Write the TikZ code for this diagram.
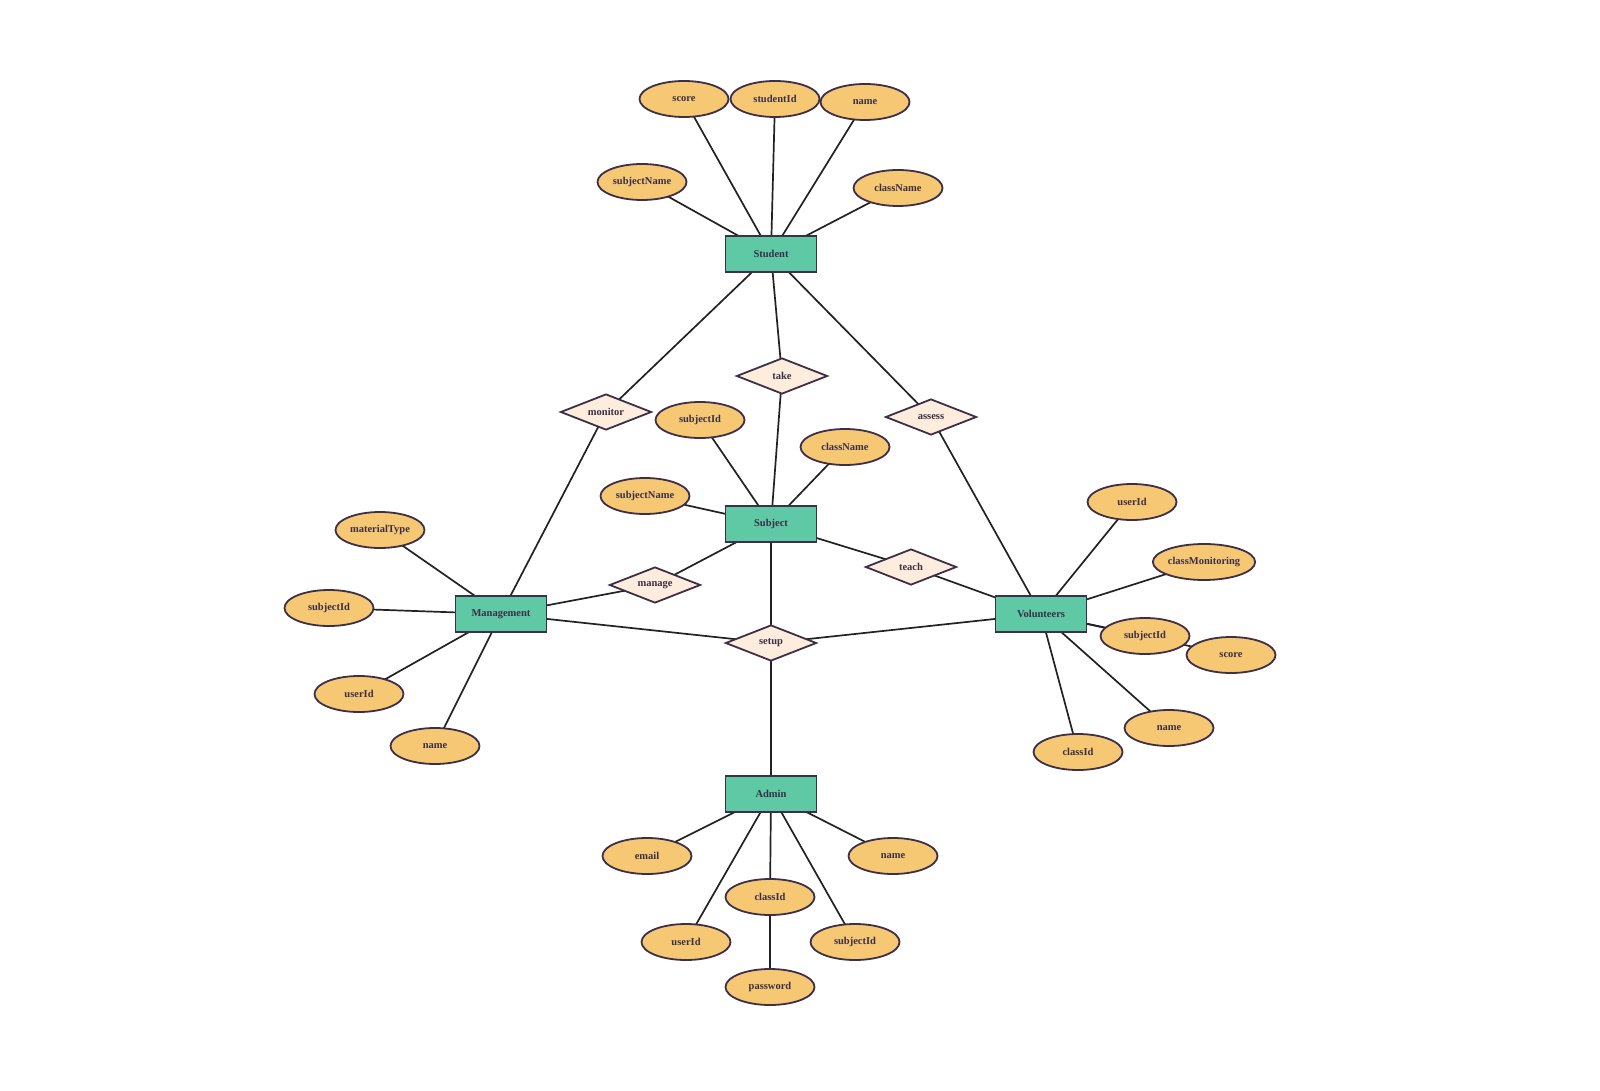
\documentclass[tikz,border=0pt]{standalone}
\usepackage{fontspec}
\setmainfont{Liberation Serif}
\usetikzlibrary{shapes.geometric,backgrounds}
\definecolor{attrfill}{HTML}{F6C874}
\definecolor{entfill}{HTML}{5FC9A6}
\definecolor{relfill}{HTML}{FEEDDC}
\definecolor{outline}{HTML}{3D2F48}
\definecolor{txt}{HTML}{3A2E45}
\definecolor{edgecol}{HTML}{222222}
\begin{document}
\begin{tikzpicture}[x=1pt,y=-1pt,
  base/.style={draw=outline,line width=1.8pt,text=txt,font=\fontsize{10.5}{12}\selectfont\bfseries,inner sep=0pt},
  entity/.style={base,rectangle,fill=entfill,minimum width=91pt,minimum height=36pt},
  attr/.style={base,ellipse,fill=attrfill,minimum width=89pt,minimum height=36pt},
  rel/.style={base,diamond,fill=relfill,minimum width=91pt,minimum height=36pt,aspect=2.5},
  link/.style={draw=edgecol,line width=1.7pt}]
\useasboundingbox (0,0) rectangle (1600,1091);
% entities
\node[entity] (student) at (771,254) {Student};
\node[entity] (subject) at (771,524) {Subject};
\node[entity] (mgmt) at (501,614) {Management};
\node[entity] (vol) at (1041,614) {Volunteers};
\node[entity] (admin) at (771,794) {Admin};
% relationships
\node[rel] (take) at (782,376) {take};
\node[rel] (monitor) at (606,412) {monitor};
\node[rel] (assess) at (931,417) {assess};
\node[rel] (manage) at (655,585) {manage};
\node[rel] (teach) at (911,567) {teach};
\node[rel] (setup) at (771,643) {setup};
% student attributes
\node[attr] (sScore) at (684,99) {score};
\node[attr] (sId) at (775,99) {studentId};
\node[attr] (sName) at (865,102) {name};
\node[attr] (sSubj) at (642,182) {subjectName};
\node[attr] (sClass) at (898,188) {className};
% subject attributes
\node[attr] (subId) at (700,420) {subjectId};
\node[attr] (subClass) at (845,447) {className};
\node[attr] (subName) at (645,496) {subjectName};
% management attributes
\node[attr] (mMat) at (380,530) {materialType};
\node[attr] (mSubj) at (329,608) {subjectId};
\node[attr] (mUser) at (359,694) {userId};
\node[attr] (mName) at (435,746) {name};
% volunteers attributes
\node[attr] (vUser) at (1132,502) {userId};
\node[attr] (vMon) at (1204,562) {classMonitoring};
\node[attr] (vSubj) at (1145,636) {subjectId};
\node[attr] (vScore) at (1231,655) {score};
\node[attr] (vName) at (1169,728) {name};
\node[attr] (vClass) at (1078,752) {classId};
% admin attributes
\node[attr] (aEmail) at (647,856) {email};
\node[attr] (aName) at (893,856) {name};
\node[attr] (aClass) at (770,897) {classId};
\node[attr] (aUser) at (686,942) {userId};
\node[attr] (aSubj) at (855,942) {subjectId};
\node[attr] (aPass) at (770,987) {password};
\begin{scope}[on background layer]
\foreach \a in {sScore,sId,sName,sSubj,sClass} \draw[link] (student.center) -- (\a.center);
\foreach \a in {subId,subClass,subName} \draw[link] (subject.center) -- (\a.center);
\foreach \a in {mMat,mSubj,mUser,mName} \draw[link] (mgmt.center) -- (\a.center);
\foreach \a in {vUser,vMon,vSubj,vScore,vName,vClass} \draw[link] (vol.center) -- (\a.center);
\foreach \a in {aEmail,aName,aClass,aUser,aSubj} \draw[link] (admin.center) -- (\a.center);
\draw[link] (aClass.center) -- (aPass.center);
\draw[link] (student.center) -- (monitor.center) -- (mgmt.center);
\draw[link] (student.center) -- (take.center) -- (subject.center);
\draw[link] (student.center) -- (assess.center) -- (vol.center);
\draw[link] (subject.center) -- (manage.center) -- (mgmt.center);
\draw[link] (subject.center) -- (teach.center) -- (vol.center);
\draw[link] (subject.center) -- (setup.center);
\draw[link] (mgmt.center) -- (setup.center);
\draw[link] (vol.center) -- (setup.center);
\draw[link] (setup.center) -- (admin.center);
\end{scope}
\end{tikzpicture}
\end{document}
